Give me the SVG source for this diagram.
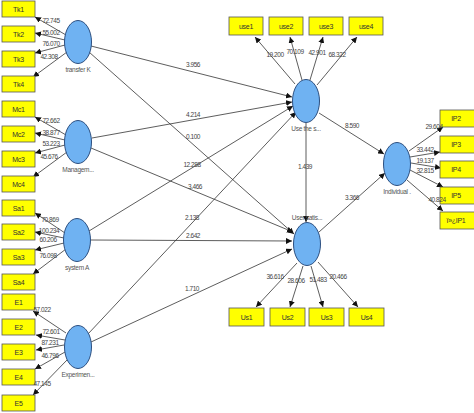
<svg xmlns="http://www.w3.org/2000/svg" width="474" height="413" viewBox="0 0 474 413">
<defs>
<marker id="ah" markerUnits="userSpaceOnUse" markerWidth="7" markerHeight="6" refX="6" refY="3" orient="auto">
<path d="M0,0 L6,3 L0,6 z" fill="#111"/>
</marker>
<style>
.box{fill:#ffff00;stroke:#555;stroke-width:0.8}
.lv{fill:#6fb2f2;stroke:#2c4f80;stroke-width:1}
.bt{font-family:"Liberation Sans",Arial,sans-serif;font-size:7px;fill:#333;text-anchor:middle;letter-spacing:-0.3px}
.ct{font-family:"Liberation Sans",Arial,sans-serif;font-size:6.5px;fill:#555;text-anchor:middle;letter-spacing:-0.3px}
.nt{font-family:"Liberation Sans",Arial,sans-serif;font-size:6.5px;fill:#444;text-anchor:middle;letter-spacing:-0.45px}
.ln{stroke:#333;stroke-width:0.8;fill:none;marker-end:url(#ah)}
</style>
</defs>
<rect width="474" height="413" fill="#fff"/>

<g id="connectors">
<line class="ln" x1="66" y1="35" x2="35" y2="17"/>
<line class="ln" x1="65" y1="40" x2="35" y2="33"/>
<line class="ln" x1="65" y1="45" x2="35" y2="53"/>
<line class="ln" x1="67" y1="52" x2="33" y2="77"/>
<line class="ln" x1="66" y1="135" x2="35" y2="117"/>
<line class="ln" x1="65" y1="140" x2="35" y2="133"/>
<line class="ln" x1="65" y1="145" x2="35" y2="153"/>
<line class="ln" x1="67" y1="152" x2="33" y2="177"/>
<line class="ln" x1="65" y1="233" x2="35" y2="213"/>
<line class="ln" x1="64" y1="238" x2="35" y2="232"/>
<line class="ln" x1="64" y1="243" x2="35" y2="250"/>
<line class="ln" x1="66" y1="249" x2="33" y2="274"/>
<line class="ln" x1="66" y1="333" x2="33" y2="311"/>
<line class="ln" x1="65" y1="340" x2="36" y2="335"/>
<line class="ln" x1="64" y1="345" x2="36" y2="350"/>
<line class="ln" x1="65" y1="352" x2="35" y2="369"/>
<line class="ln" x1="67" y1="360" x2="33" y2="395"/>
<line class="ln" x1="295" y1="84" x2="255" y2="37"/>
<line class="ln" x1="302" y1="80" x2="290" y2="37"/>
<line class="ln" x1="310" y1="80" x2="323" y2="37"/>
<line class="ln" x1="317" y1="85" x2="357" y2="37"/>
<line class="ln" x1="297" y1="263" x2="256" y2="307"/>
<line class="ln" x1="303" y1="266" x2="290" y2="307"/>
<line class="ln" x1="311" y1="266" x2="323" y2="307"/>
<line class="ln" x1="318" y1="262" x2="358" y2="307"/>
<line class="ln" x1="409" y1="151" x2="443" y2="127"/>
<line class="ln" x1="410" y1="157" x2="440" y2="152"/>
<line class="ln" x1="411" y1="163" x2="441" y2="168"/>
<line class="ln" x1="410" y1="170" x2="443" y2="187"/>
<line class="ln" x1="407" y1="180" x2="443" y2="211"/>
<line class="ln" x1="91" y1="46" x2="292" y2="97"/>
<line class="ln" x1="89" y1="52" x2="294" y2="234"/>
<line class="ln" x1="92" y1="138" x2="292" y2="102"/>
<line class="ln" x1="91" y1="148" x2="293" y2="232"/>
<line class="ln" x1="89" y1="231" x2="293" y2="106"/>
<line class="ln" x1="91" y1="240" x2="292" y2="241"/>
<line class="ln" x1="88" y1="334" x2="296" y2="112"/>
<line class="ln" x1="91" y1="342" x2="292" y2="249"/>
<line class="ln" x1="306" y1="123" x2="306" y2="222"/>
<line class="ln" x1="319" y1="113" x2="384" y2="154"/>
<line class="ln" x1="319" y1="232" x2="385" y2="173"/>
</g>

<g id="Tk1"><rect class="box" x="2" y="1" width="33" height="16"/><text class="bt" x="18.5" y="11.5">Tk1</text></g>
<g id="Tk2"><rect class="box" x="2" y="26" width="33" height="16"/><text class="bt" x="18.5" y="36.5">Tk2</text></g>
<g id="Tk3"><rect class="box" x="2" y="51" width="33" height="16"/><text class="bt" x="18.5" y="61.5">Tk3</text></g>
<g id="Tk4"><rect class="box" x="2" y="76" width="33" height="16"/><text class="bt" x="18.5" y="86.5">Tk4</text></g>
<g id="Mc1"><rect class="box" x="2" y="101" width="33" height="16"/><text class="bt" x="18.5" y="111.5">Mc1</text></g>
<g id="Mc2"><rect class="box" x="2" y="126" width="33" height="16"/><text class="bt" x="18.5" y="136.5">Mc2</text></g>
<g id="Mc3"><rect class="box" x="2" y="151" width="33" height="16"/><text class="bt" x="18.5" y="161.5">Mc3</text></g>
<g id="Mc4"><rect class="box" x="2" y="176" width="33" height="16"/><text class="bt" x="18.5" y="186.5">Mc4</text></g>
<g id="Sa1"><rect class="box" x="2" y="200" width="33" height="16"/><text class="bt" x="18.5" y="210.5">Sa1</text></g>
<g id="Sa2"><rect class="box" x="2" y="224" width="33" height="16"/><text class="bt" x="18.5" y="234.5">Sa2</text></g>
<g id="Sa3"><rect class="box" x="2" y="249" width="33" height="16"/><text class="bt" x="18.5" y="259.5">Sa3</text></g>
<g id="Sa4"><rect class="box" x="2" y="274" width="33" height="16"/><text class="bt" x="18.5" y="284.5">Sa4</text></g>
<g id="E1"><rect class="box" x="2" y="294" width="33" height="16"/><text class="bt" x="18.5" y="304.5">E1</text></g>
<g id="E2"><rect class="box" x="2" y="319" width="33" height="16"/><text class="bt" x="18.5" y="329.5">E2</text></g>
<g id="E3"><rect class="box" x="2" y="344" width="33" height="16"/><text class="bt" x="18.5" y="354.5">E3</text></g>
<g id="E4"><rect class="box" x="2" y="369" width="33" height="16"/><text class="bt" x="18.5" y="379.5">E4</text></g>
<g id="E5"><rect class="box" x="2" y="395" width="33" height="16"/><text class="bt" x="18.5" y="405.5">E5</text></g>

<g id="use1"><rect class="box" x="229" y="17" width="34" height="18"/><text class="bt" x="246" y="28.5">use1</text></g>
<g id="use2"><rect class="box" x="269" y="17" width="34" height="18"/><text class="bt" x="286" y="28.5">use2</text></g>
<g id="use3"><rect class="box" x="309" y="17" width="34" height="18"/><text class="bt" x="326" y="28.5">use3</text></g>
<g id="use4"><rect class="box" x="349" y="17" width="34" height="18"/><text class="bt" x="366" y="28.5">use4</text></g>

<g id="Us1"><rect class="box" x="229" y="308" width="35" height="18"/><text class="bt" x="246.5" y="319.5">Us1</text></g>
<g id="Us2"><rect class="box" x="270" y="308" width="35" height="18"/><text class="bt" x="287.5" y="319.5">Us2</text></g>
<g id="Us3"><rect class="box" x="309" y="308" width="35" height="18"/><text class="bt" x="326.5" y="319.5">Us3</text></g>
<g id="Us4"><rect class="box" x="349" y="308" width="35" height="18"/><text class="bt" x="366.5" y="319.5">Us4</text></g>

<g id="IP2"><rect class="box" x="440" y="110" width="35" height="17"/><text class="bt" x="456" y="121">IP2</text></g>
<g id="IP3"><rect class="box" x="440" y="136" width="35" height="17"/><text class="bt" x="456" y="147">IP3</text></g>
<g id="IP4"><rect class="box" x="440" y="161" width="35" height="17"/><text class="bt" x="456" y="172">IP4</text></g>
<g id="IP5"><rect class="box" x="440" y="187" width="35" height="17"/><text class="bt" x="456" y="198">IP5</text></g>
<g id="IP1"><rect class="box" x="440" y="212" width="35" height="17"/><text class="bt" x="456" y="223">ï»¿IP1</text></g>

<g id="transferK"><ellipse class="lv" cx="78" cy="42" rx="13.5" ry="21.5"/><text class="ct" x="78" y="72">transfer K</text></g>
<g id="Management"><ellipse class="lv" cx="78" cy="142" rx="13.5" ry="21.5"/><text class="ct" x="78" y="172">Managem...</text></g>
<g id="systemA"><ellipse class="lv" cx="77" cy="240" rx="13.5" ry="21.5"/><text class="ct" x="77" y="270">system A</text></g>
<g id="Experimen"><ellipse class="lv" cx="78" cy="347" rx="13.5" ry="21.5"/><text class="ct" x="78" y="377">Experimen...</text></g>
<g id="UseThe"><ellipse class="lv" cx="306" cy="101" rx="13.5" ry="21.5"/><text class="ct" x="306" y="131">Use the s...</text></g>
<g id="UserSatis"><ellipse class="lv" cx="307" cy="244" rx="13.5" ry="21.5"/><text class="ct" x="307" y="220">User satis...</text></g>
<g id="Individual"><ellipse class="lv" cx="397" cy="164" rx="13.5" ry="21.5"/><text class="ct" x="397" y="194">Individual .</text></g>

<g id="connector-labels">
<text class="nt" x="51" y="23">72.745</text>
<text class="nt" x="51" y="35">55.002</text>
<text class="nt" x="51" y="46">76.070</text>
<text class="nt" x="49" y="59">42.308</text>
<text class="nt" x="51" y="123">72.662</text>
<text class="nt" x="51" y="135">38.877</text>
<text class="nt" x="51" y="146">53.223</text>
<text class="nt" x="49" y="159">45.676</text>
<text class="nt" x="50" y="222">70.869</text>
<text class="nt" x="49" y="233">100.234</text>
<text class="nt" x="48" y="242">60.206</text>
<text class="nt" x="48" y="258">76.098</text>
<text class="nt" x="42" y="312">57.022</text>
<text class="nt" x="51" y="334">72.601</text>
<text class="nt" x="50" y="345">87.231</text>
<text class="nt" x="50" y="358">46.796</text>
<text class="nt" x="42" y="386">47.145</text>
<text class="nt" x="275" y="57">19.200</text>
<text class="nt" x="295" y="54">70.109</text>
<text class="nt" x="317" y="55">42.901</text>
<text class="nt" x="337" y="57">68.322</text>
<text class="nt" x="275" y="279">36.616</text>
<text class="nt" x="296" y="283">28.606</text>
<text class="nt" x="318" y="282">51.483</text>
<text class="nt" x="338" y="279">20.466</text>
<text class="nt" x="434" y="129">29.604</text>
<text class="nt" x="425" y="152">33.442</text>
<text class="nt" x="425" y="163">19.137</text>
<text class="nt" x="425" y="173">32.815</text>
<text class="nt" x="437" y="202">40.824</text>
<text class="nt" x="193" y="67">3.956</text>
<text class="nt" x="193" y="117">4.214</text>
<text class="nt" x="193" y="139">0.100</text>
<text class="nt" x="192" y="167">12.288</text>
<text class="nt" x="195" y="189">3.466</text>
<text class="nt" x="192" y="220">2.138</text>
<text class="nt" x="193" y="238">2.642</text>
<text class="nt" x="192" y="291">1.710</text>
<text class="nt" x="305" y="169">1.439</text>
<text class="nt" x="352" y="128">8.590</text>
<text class="nt" x="352" y="200">3.366</text>
</g>
</svg>
